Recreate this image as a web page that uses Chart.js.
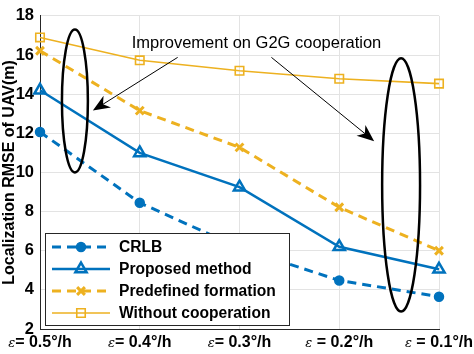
<!DOCTYPE html>
<html>
<head>
<meta charset="utf-8">
<script src="https://cdn.jsdelivr.net/npm/chart.js@4.4.1/dist/chart.umd.min.js"></script>
<style>
  html, body { margin: 0; padding: 0; background: #fff; }
  #wrap { width: 474px; height: 354px; }
</style>
</head>
<body>
<div id="wrap"><canvas id="grafico"></canvas></div>
<script>
var rotulos = ['0.5', '0.4', '0.3', '0.2', '0.1'];
var rotulosEixoX = ['= 0.5°/h', '= 0.4°/h', '= 0.3°/h', ' = 0.2°/h', ' = 0.1°/h'];
var crlb = [12.07, 8.45, 6.15, 4.48, 3.65];
var proposto = [14.2, 11.0, 9.25, 6.2, 5.05];
var predefinido = [16.22, 13.16, 11.28, 8.22, 6.0];
var semCooperacao = [16.9, 15.73, 15.2, 14.79, 14.54];
var ticksY = [2, 4, 6, 8, 10, 12, 14, 16, 18];

const azul = '#0072BD';
const laranja = '#EDB120';
const fonte = '"Liberation Sans", Arial, sans-serif';

// desenha legenda, elipses, setas e rotulos do eixo x
const anotacoes = {
    id: 'anotacoes',
    afterDraw(chart) {
        const ctx = chart.ctx;
        const x = chart.scales.x;
        ctx.save();
        ctx.fillStyle = '#000';
        ctx.textBaseline = 'middle';
        ctx.textAlign = 'left';
        rotulosEixoX.forEach((txt, i) => {
            const cx = x.getPixelForValue(i);
            ctx.font = 'italic 13px "DejaVu Serif", serif';
            const w1 = ctx.measureText('ε').width;
            ctx.font = 'bold 16px ' + fonte;
            const w2 = ctx.measureText(txt).width;
            let x0 = cx - (w1 + w2) / 2;
            x0 = Math.min(x0, chart.width - (w1 + w2) - 1);
            ctx.font = 'italic 13px "DejaVu Serif", serif';
            ctx.fillText('ε', x0, x.bottom - 10);
            ctx.font = 'bold 16px ' + fonte;
            ctx.fillText(txt, x0 + w1, x.bottom - 11);
        });
        ctx.restore();
    },
    afterDatasetsDraw(chart) {
        const ctx = chart.ctx;
        const x = chart.scales.x;
        const y = chart.scales.y;
        const px = (v) => x.left + (x.right - x.left) * v / (rotulos.length - 1);
        const py = (v) => y.getPixelForValue(v);

        ctx.save();
        // elipses
        ctx.strokeStyle = '#000';
        ctx.lineWidth = 2.5;
        [[0.35, 13.65, 0.13, 3.65], [3.62, 9.36, 0.19, 6.47]].forEach((e) => {
            const cx = px(e[0]), cy = py(e[1]);
            const rx = px(e[2]) - px(0), ry = py(0) - py(e[3]);
            ctx.beginPath();
            ctx.ellipse(cx, cy, rx, ry, 0, 0, Math.PI * 2);
            ctx.stroke();
        });

        // setas
        [[1.38, 15.88, 0.53, 13.16], [2.32, 15.88, 3.35, 11.6]].forEach((s) => {
            const x0 = px(s[0]), y0 = py(s[1]), x1 = px(s[2]), y1 = py(s[3]);
            const ang = Math.atan2(y1 - y0, x1 - x0);
            ctx.lineWidth = 1;
            ctx.beginPath();
            ctx.moveTo(x0, y0);
            ctx.lineTo(x1 - 10 * Math.cos(ang), y1 - 10 * Math.sin(ang));
            ctx.stroke();
            ctx.save();
            ctx.translate(x1, y1);
            ctx.rotate(ang);
            ctx.fillStyle = '#000';
            ctx.beginPath();
            ctx.moveTo(0, 0);
            ctx.lineTo(-17, -7);
            ctx.lineTo(-12, 0);
            ctx.lineTo(-17, 7);
            ctx.closePath();
            ctx.fill();
            ctx.restore();
        });

        ctx.fillStyle = '#000';
        ctx.font = '16.5px ' + fonte;
        ctx.textAlign = 'left';
        ctx.textBaseline = 'middle';
        ctx.fillText('Improvement on G2G cooperation', px(0.92), py(16.57));

        // legenda
        const lx = 45, ly = 233, lw = 244, lh = 92;
        ctx.fillStyle = '#fff';
        ctx.fillRect(lx, ly, lw, lh);
        ctx.strokeStyle = '#262626';
        ctx.lineWidth = 1;
        ctx.strokeRect(lx + 0.5, ly + 0.5, lw, lh);
        chart.data.datasets.forEach((ds, i) => {
            const yy = ly + 14 + i * 22;
            ctx.strokeStyle = ds.borderColor;
            ctx.lineWidth = ds.borderWidth;
            ctx.setLineDash(ds.borderDash || []);
            ctx.beginPath();
            ctx.moveTo(lx + 7, yy);
            ctx.lineTo(lx + 65, yy);
            ctx.stroke();
            ctx.setLineDash([]);
            ctx.fillStyle = ds.pointBackgroundColor;
            ctx.strokeStyle = ds.borderColor;
            ctx.lineWidth = ds.pointBorderWidth;
            Chart.helpers.drawPoint(ctx, {
                pointStyle: ds.pointStyle,
                radius: ds.pointRadius,
                rotation: 0,
                borderWidth: ds.pointBorderWidth
            }, lx + 36, yy);
            ctx.fillStyle = '#000';
            ctx.font = 'bold 15.6px ' + fonte;
            ctx.textAlign = 'left';
            ctx.textBaseline = 'middle';
            ctx.fillText(ds.label, lx + 74, yy + 1);
        });
        ctx.restore();
    }
};

new Chart(document.getElementById('grafico').getContext('2d'), {
    type: 'line',
    data: {
        labels: rotulos,
        datasets: [{
            label: 'CRLB',
            data: crlb,
            borderColor: azul,
            borderWidth: 3,
            borderDash: [9, 6],
            pointStyle: 'circle',
            pointRadius: 4.5,
            pointBackgroundColor: azul,
            pointBorderWidth: 1.5
        }, {
            label: 'Proposed method',
            data: proposto,
            borderColor: azul,
            borderWidth: 2.5,
            pointStyle: 'triangle',
            pointRadius: 6.5,
            pointBackgroundColor: 'rgba(0,0,0,0)',
            pointBorderWidth: 2.5
        }, {
            label: 'Predefined formation',
            data: predefinido,
            borderColor: laranja,
            borderWidth: 3,
            borderDash: [9, 6],
            pointStyle: 'crossRot',
            pointRadius: 5.5,
            pointBackgroundColor: laranja,
            pointBorderWidth: 3
        }, {
            label: 'Without cooperation',
            data: semCooperacao,
            borderColor: laranja,
            borderWidth: 1.6,
            pointStyle: 'rect',
            pointRadius: 6,
            pointBackgroundColor: 'rgba(0,0,0,0)',
            pointBorderWidth: 1.6
        }]
    },
    options: {
        responsive: true,
        maintainAspectRatio: false,
        animation: false,
        layout: { padding: { top: 5, right: 35, left: 0, bottom: 0 } },
        plugins: { legend: { display: false }, tooltip: { enabled: false } },
        elements: { line: { tension: 0 } },
        scales: {
            x: {
                offset: false,
                grid: { color: '#e3e3e3', drawTicks: false },
                border: { color: '#262626', width: 1 },
                afterFit: (s) => { s.height = 25; },
                ticks: { display: false }
            },
            y: {
                min: 2,
                max: 18,
                afterFit: (s) => { s.width = 40; },
                afterBuildTicks: (s) => { s.ticks = ticksY.map((v) => ({ value: v })); },
                grid: { color: '#e3e3e3', drawTicks: false },
                border: { color: '#262626', width: 1 },
                title: {
                    display: true,
                    text: 'Localization RMSE of UAV(m)',
                    color: '#000',
                    font: { family: fonte, size: 16, weight: 'bold' },
                    padding: { top: 0, bottom: 0 }
                },
                ticks: {
                    padding: 6,
                    color: '#000',
                    font: { family: fonte, size: 16.5, weight: 'bold' }
                }
            }
        }
    },
    plugins: [anotacoes]
});
</script>
</body>
</html>
